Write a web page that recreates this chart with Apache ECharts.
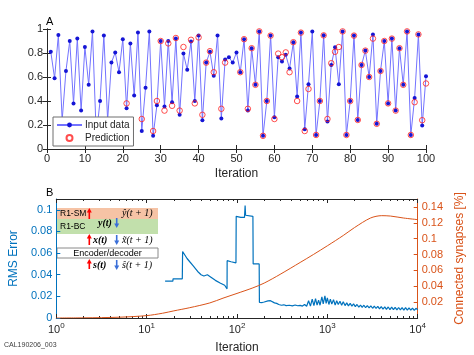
<!DOCTYPE html>
<html><head><meta charset="utf-8">
<script src="https://cdn.jsdelivr.net/npm/echarts@6/dist/echarts.min.js"></script>
<style>html,body{margin:0;padding:0;background:#fff}#c{width:474px;height:355px}</style>
</head><body><div id="c"></div>
<script>
// ---------- Panel A data ----------
const iterations = Array.from({length: 100}, (_, i) => i + 1);
const inputData = [0.81,0.59,0.95,0.24,0.65,0.90,0.38,0.92,0.32,0.85,0.535,0.98,0.11,0.40,0.945,0.24,0.72,0.805,0.64,0.915,
0.34,0.88,0.445,0.97,0.15,0.51,0.98,0.11,0.365,0.90,
0.355,0.90,0.39,0.92,0.285,0.795,0.66,0.895,0.40,0.945,
0.24,0.72,0.81,0.61,0.945,0.255,0.745,0.765,0.72,0.805,
0.64,0.915,0.32,0.84,0.535,0.98,0.11,0.40,0.945,0.265,
0.765,0.73,0.785,0.67,0.89,0.437,0.97,0.165,0.54,0.98,
0.117,0.40,0.947,0.23,0.70,0.847,0.54,0.98,0.117,0.40,
0.945,0.242,0.70,0.82,0.60,0.955,0.21,0.65,0.90,0.38,
0.92,0.32,0.84,0.535,0.98,0.117,0.426,0.955,0.195,0.607];
const predictionData = [null,null,null,null,null,null,null,null,null,null,null,null,null,null,null,null,null,null,null,null,
0.38,null,null,null,0.25,null,null,0.15,0.40,0.90,
0.32,0.88,0.36,0.925,0.32,0.85,null,0.91,0.38,0.93,
0.285,0.72,0.815,0.64,null,0.335,0.72,null,null,null,
0.64,0.915,0.335,0.84,0.535,0.98,0.11,0.40,0.945,0.25,
0.795,0.765,0.805,0.64,0.89,0.40,0.97,0.15,0.50,null,
0.117,0.40,0.947,0.25,0.715,0.81,0.85,0.98,0.117,0.40,
0.945,0.242,0.70,0.82,0.60,0.92,0.21,0.65,0.90,0.38,
0.92,0.32,0.84,0.535,0.98,0.117,0.39,0.955,0.24,0.546];
const xTicksA = [0,10,20,30,40,50,60,70,80,90,100];
const yTicksA = [0,0.2,0.4,0.6,0.8,1];

// ---------- Panel B data ----------
const rmsIter = [16,19.5,19.6,24.8,25,26,28,30,32.6,36.7,40,43,47,51,57.6,65,73,77.6,77.8,86,97.4,98,110,121,123,124.5,130,150,151,176,177,
190,200,210,220,225,235,245,260,275,290,310,330,350,380,410,440,470,500,530,560,590,620,650,680,710,740,770,800,830,870,900,940,970,
1000,1040,1080,1120,1170,1220,1270,1320,1380,1440,1500,1570,1640,1710,1790,1870,1950,2040,2130,2230,2330,2430,2540,2650,2770,2900,
3030,3170,3310,3460,3620,3780,3950,4130,4320,4510,4720,4930,5150,5390,5630,5890,6150,6430,6720,7030,7340,7680,8020,8380,8760,9160,9570,10000];
const rmsError = [0.034,0.034,0.0362,0.0362,0.0615,0.060,0.055,0.052,0.0485,0.043,0.040,0.0388,0.040,0.038,0.0348,0.0324,0.0303,0.027,0.053,0.052,0.051,0.094,0.093,0.093,0.104,0.095,0.094,0.094,0.050,0.050,0.0145,
0.0143,0.0148,0.0142,0.0158,0.0140,0.0160,0.0145,0.0140,0.0135,0.0125,0.0118,0.0122,0.0115,0.0118,0.0112,0.0120,0.0113,0.0117,0.0110,0.0125,0.0108,0.0160,0.0110,0.0175,0.0115,0.0180,0.0120,0.0165,0.0118,0.0195,0.0130,0.0205,0.0135,
0.0185,0.0125,0.0175,0.0128,0.0170,0.0120,0.0160,0.0125,0.0155,0.0118,0.0150,0.0115,0.0140,0.0112,0.0135,0.0110,0.0130,0.0105,0.0125,0.0100,0.0120,0.0098,0.0118,0.0095,0.0115,0.0093,
0.0112,0.0090,0.0110,0.0088,0.0108,0.0085,0.0105,0.0083,0.0103,0.0080,0.0102,0.0078,0.0100,0.0077,0.0098,0.0076,0.0097,0.0075,0.0096,0.0073,0.0095,0.0072,0.0093,0.0072,0.0092,0.0070,0.0090,0.0075];
const synIter = [1,2,5,10,15,20,30,50,70,100,150,200,300,500,700,1000,1500,2000,3000,4000,5000,7000,10000];
const synapses = [0,0.0002,0.001,0.003,0.006,0.009,0.013,0.019,0.025,0.031,0.038,0.044,0.055,0.070,0.080,0.091,0.104,0.114,0.126,0.129,0.1285,0.126,0.124];
const xTicksB = [1,10,100,1000,10000];
const minorTicksB = [2,3,4,5,6,7,8,9,20,30,40,50,60,70,80,90,200,300,400,500,600,700,800,900,2000,3000,4000,5000,6000,7000,8000,9000];

const INK = '#262626', BLUE = '#0072BD', ORANGE = '#D95319';
const FONT = 'Liberation Sans';

const chart = echarts.init(document.getElementById('c'), null, {renderer: 'canvas'});

function boxAxisX(gridIndex, pos, extra) {
  return Object.assign({
    gridIndex, position: pos, type: 'value',
    axisLine: {show: true, lineStyle: {color: INK, width: 1}},
    axisTick: {show: true, inside: true, length: 4, lineStyle: {color: INK}},
    axisLabel: {show: false}, splitLine: {show: false}
  }, extra);
}

const option = {
  animation: false,
  textStyle: {fontFamily: FONT},
  grid: [
    {left: 47, top: 29, width: 379, height: 120, containLabel: false},
    {left: 47, top: 199, width: 379, height: 121, containLabel: false}
  ],
  legend: {
    data: ['Input data', 'Prediction'],
    orient: 'vertical', left: 53, top: 117,
    backgroundColor: '#fff', borderColor: '#6e6e6e', borderWidth: 1,
    padding: [3, 4, 3, 3], itemGap: 3, itemWidth: 25, itemHeight: 6,
    textStyle: {fontSize: 10, color: INK, fontFamily: FONT, padding: [0, 0, 0, -2]}
  },
  xAxis: [
    boxAxisX(0, 'bottom', {
      min: xTicksA[0], max: xTicksA[xTicksA.length - 1], interval: 10,
      axisLabel: {show: true, fontSize: 11, color: INK, margin: 4},
      name: 'Iteration', nameLocation: 'middle', nameGap: 19,
      nameTextStyle: {fontSize: 12, color: INK}
    }),
    boxAxisX(0, 'top', {min: 0, max: 100, interval: 10}),
    boxAxisX(1, 'bottom', {
      type: 'log', logBase: 10, min: 1, max: 10000,
      axisLabel: {show: true, margin: 4, color: INK,
        formatter: v => '{b|10}{s|' + Math.round(Math.log10(v)) + '}',
        rich: {b: {fontSize: 11, color: INK, fontFamily: FONT},
               s: {fontSize: 8, color: INK, fontFamily: FONT, verticalAlign: 'bottom', padding: [0, 0, 7, 0]}}},
      name: 'Iteration', nameLocation: 'middle', nameGap: 24,
      nameTextStyle: {fontSize: 12, color: INK}
    }),
    boxAxisX(1, 'bottom', {
      type: 'log', logBase: 10, min: 1, max: 10000,
      axisLine: {show: false},
      axisTick: {show: true, inside: true, length: 2, lineStyle: {color: INK}, customValues: minorTicksB}
    }),
    boxAxisX(1, 'top', {type: 'log', logBase: 10, min: 1, max: 10000}),
    boxAxisX(1, 'top', {
      type: 'log', logBase: 10, min: 1, max: 10000,
      axisLine: {show: false},
      axisTick: {show: true, inside: true, length: 2, lineStyle: {color: INK}, customValues: minorTicksB}
    })
  ],
  yAxis: [
    {
      gridIndex: 0, position: 'left', type: 'value', min: yTicksA[0], max: yTicksA[yTicksA.length - 1], interval: 0.2,
      axisLine: {show: true, lineStyle: {color: INK}},
      axisTick: {show: true, inside: true, length: 4, lineStyle: {color: INK}},
      axisLabel: {fontSize: 11, color: INK, margin: 4},
      splitLine: {show: false}
    },
    {
      gridIndex: 0, position: 'right', type: 'value', min: 0, max: 1, interval: 0.2,
      axisLine: {show: true, lineStyle: {color: INK}},
      axisTick: {show: true, inside: true, length: 4, lineStyle: {color: INK}},
      axisLabel: {show: false}, splitLine: {show: false}
    },
    {
      gridIndex: 1, position: 'left', type: 'value', min: 0, max: 0.11, interval: 0.02,
      axisLine: {show: true, lineStyle: {color: BLUE}},
      axisTick: {show: true, inside: true, length: 4, lineStyle: {color: BLUE}},
      axisLabel: {fontSize: 11, color: BLUE, margin: 4, showMaxLabel: false},
      splitLine: {show: false},
      name: 'RMS Error', nameLocation: 'middle', nameGap: 30,
      nameTextStyle: {fontSize: 12, color: BLUE}
    },
    {
      gridIndex: 1, position: 'right', type: 'value', min: 0, max: 0.15, interval: 0.02,
      axisLine: {show: true, lineStyle: {color: ORANGE}},
      axisTick: {show: true, inside: true, length: 4, lineStyle: {color: ORANGE}},
      axisLabel: {fontSize: 11, color: ORANGE, margin: 4, showMaxLabel: false, showMinLabel: false},
      splitLine: {show: false},
      name: 'Connected synapses [%]', nameLocation: 'middle', nameGap: 31,
      nameTextStyle: {fontSize: 12, color: ORANGE}
    }
  ],
  series: [
    {
      name: 'Input data', type: 'line', xAxisIndex: 0, yAxisIndex: 0,
      data: iterations.map((x, i) => [x, inputData[i]]),
      symbol: 'circle', symbolSize: 4, showAllSymbol: true,
      lineStyle: {color: '#7373ff', width: 1},
      itemStyle: {color: '#1515d5'}, z: 2
    },
    {
      name: 'Prediction', type: 'scatter', xAxisIndex: 0, yAxisIndex: 0,
      data: iterations.map((x, i) => [x, predictionData[i]]).filter(d => d[1] !== null),
      symbol: 'circle', symbolSize: 5.5,
      itemStyle: {color: 'rgba(0,0,0,0)', borderColor: '#ff2020', borderWidth: 1}, z: 3
    },
    {
      name: 'RMS', type: 'line', xAxisIndex: 2, yAxisIndex: 2,
      data: rmsIter.map((x, i) => [x, rmsError[i]]),
      showSymbol: false, lineStyle: {color: BLUE, width: 1.2}
    },
    {
      name: 'Synapses', type: 'line', xAxisIndex: 2, yAxisIndex: 3,
      data: synIter.map((x, i) => [x, synapses[i]]),
      showSymbol: false, smooth: 0.3, lineStyle: {color: ORANGE, width: 1}
    }
  ],
  graphic: [
    {type: 'text', x: 46, y: 16, style: {text: 'A', fontSize: 11, fill: '#000', fontFamily: FONT}},
    {type: 'text', x: 46, y: 187, style: {text: 'B', fontSize: 11, fill: '#000', fontFamily: FONT}},
    {type: 'text', x: 4, y: 342, style: {text: 'CAL190206_003', fontSize: 7, fill: '#404040', fontFamily: FONT}},
    {type: 'rect', shape: {x: 57, y: 208, width: 101, height: 11}, style: {fill: '#F6C3A5'}},
    {type: 'rect', shape: {x: 57, y: 219, width: 101, height: 15}, style: {fill: '#C2E0AC'}},
    {type: 'rect', shape: {x: 57, y: 248, width: 101, height: 10}, style: {fill: '#fff', stroke: '#8a8a8a', lineWidth: 1}},
    {type: 'text', x: 60, y: 214, style: {text: 'R1-SM', fontSize: 8.5, fill: '#000', fontFamily: FONT, verticalAlign: 'middle'}},
    {type: 'text', x: 60, y: 227, style: {text: 'R1-BC', fontSize: 8.5, fill: '#000', fontFamily: FONT, verticalAlign: 'middle'}},
    {type: 'text', x: 107.5, y: 253.5, style: {text: 'Encoder/decoder', fontSize: 9, fill: '#000', fontFamily: FONT, align: 'center', verticalAlign: 'middle'}},
    {type: 'text', x: 122, y: 213.5, style: {text: 'ŷ(t + 1)', font: 'italic 10px "Liberation Serif"', fill: '#000', verticalAlign: 'middle'}},
    {type: 'text', x: 98, y: 223.5, style: {text: 'y(t)', font: 'bold italic 10px "Liberation Serif"', fill: '#000', verticalAlign: 'middle'}},
    {type: 'text', x: 93, y: 240.5, style: {text: 'x(t)', font: 'bold italic 10px "Liberation Serif"', fill: '#000', verticalAlign: 'middle'}},
    {type: 'text', x: 122, y: 240.5, style: {text: 'x\u0303(t + 1)', font: 'italic 10px "Liberation Serif"', fill: '#000', verticalAlign: 'middle'}},
    {type: 'text', x: 93, y: 265.5, style: {text: 's(t)', font: 'bold italic 10px "Liberation Serif"', fill: '#000', verticalAlign: 'middle'}},
    {type: 'text', x: 122, y: 265.5, style: {text: 'ŝ(t + 1)', font: 'italic 10px "Liberation Serif"', fill: '#000', verticalAlign: 'middle'}},
    // red up arrows
    {type: 'line', shape: {x1: 89.3, y1: 219, x2: 89.3, y2: 212}, style: {stroke: '#ff0000', lineWidth: 1.6}},
    {type: 'polygon', shape: {points: [[86.8, 212.5], [91.8, 212.5], [89.3, 208]]}, style: {fill: '#ff0000'}},
    {type: 'line', shape: {x1: 89.3, y1: 245, x2: 89.3, y2: 238}, style: {stroke: '#ff0000', lineWidth: 1.6}},
    {type: 'polygon', shape: {points: [[86.8, 238.5], [91.8, 238.5], [89.3, 234]]}, style: {fill: '#ff0000'}},
    {type: 'line', shape: {x1: 89.3, y1: 269, x2: 89.3, y2: 263}, style: {stroke: '#ff0000', lineWidth: 1.6}},
    {type: 'polygon', shape: {points: [[86.8, 263.5], [91.8, 263.5], [89.3, 259]]}, style: {fill: '#ff0000'}},
    // blue down arrows
    {type: 'line', shape: {x1: 116.7, y1: 218, x2: 116.7, y2: 224}, style: {stroke: '#3a6fd8', lineWidth: 1.6}},
    {type: 'polygon', shape: {points: [[114.2, 223.5], [119.2, 223.5], [116.7, 228]]}, style: {fill: '#3a6fd8'}},
    {type: 'line', shape: {x1: 116.7, y1: 235, x2: 116.7, y2: 241}, style: {stroke: '#3a6fd8', lineWidth: 1.6}},
    {type: 'polygon', shape: {points: [[114.2, 240.5], [119.2, 240.5], [116.7, 245]]}, style: {fill: '#3a6fd8'}},
    {type: 'line', shape: {x1: 116.7, y1: 260, x2: 116.7, y2: 266}, style: {stroke: '#3a6fd8', lineWidth: 1.6}},
    {type: 'polygon', shape: {points: [[114.2, 265.5], [119.2, 265.5], [116.7, 270]]}, style: {fill: '#3a6fd8'}}
  ]
};
chart.setOption(option);
</script></body></html>
